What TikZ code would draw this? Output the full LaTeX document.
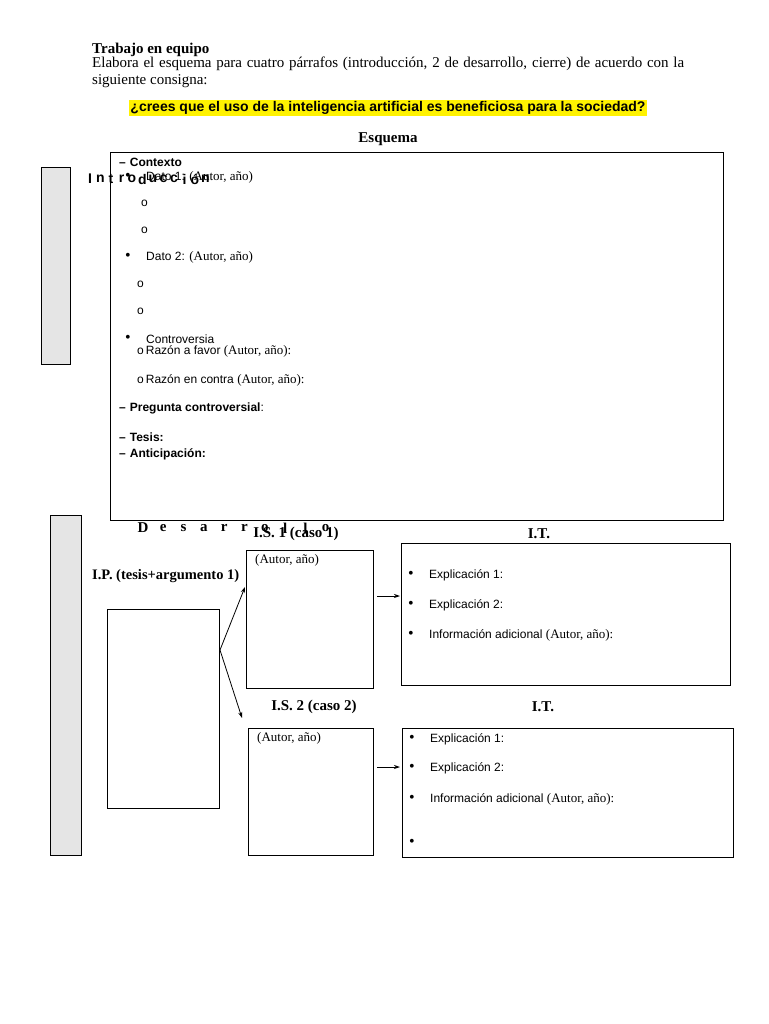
\documentclass[tikz,border=0pt]{standalone}
\usepackage{fontspec}
\setmainfont{Liberation Serif}
\newfontfamily\sansf{Liberation Sans}
\usetikzlibrary{arrows.meta}
\newcommand{\au}{{\rmfamily\fontsize{13}{14}\selectfont(Autor, año)}}
\newcommand{\bul}{\textbullet}
\begin{document}
\begin{tikzpicture}[x=1pt,y=-1pt,
  box/.style={draw,line width=0.8pt},
  bar/.style={draw,line width=0.8pt,fill=gray!20},
  lt/.style={anchor=west,inner sep=0pt,font=\sansf\fontsize{12}{14}\selectfont},
  bt/.style={anchor=west,inner sep=0pt,font=\rmfamily\fontsize{16}{14}\selectfont},
  ttl/.style={inner sep=0pt,font=\bfseries\fontsize{15}{17}\selectfont},
  arr/.style={-{Stealth[length=6pt,width=4pt]},line width=0.8pt}]
\useasboundingbox (0,0) rectangle (768,1024);
\node[ttl,anchor=west] (t1) at (92,50) {Trabajo en equipo};
\node[anchor=north west,inner sep=0pt,text width=592,align=justify,font=\fontsize{15}{17}\selectfont] (t2) at (92,57)
 {Elabora el esquema para cuatro párrafos (introducción, 2 de desarrollo, cierre) de acuerdo con la siguiente consigna:};
\node[fill=yellow,inner sep=1pt,font=\sansf\bfseries\fontsize{14}{16}\selectfont] (q) at (388,108)
 {¿crees que el uso de la inteligencia artificial es beneficiosa para la sociedad?};
\node[ttl] (esq) at (388,139) {Esquema};
\node[box,minimum width=613,minimum height=368,anchor=north west] (big) at (110,152) {};
\node[bar,minimum width=29,minimum height=197,anchor=north west] (bar1) at (41,167) {};
\node[bar,minimum width=31,minimum height=340,anchor=north west] (bar2) at (50,515) {};
\foreach \c [count=\i] in {I,n,t,r,o,d,u,c,c,i,ó,n}
  \node[inner sep=0pt,font=\sansf\bfseries\fontsize{14}{16}\selectfont] (in\i) at (90+10.5*\i-10.5,179) {\c};
\foreach \c [count=\i] in {D,e,s,a,r,r,o,l,l,o}
  \node[inner sep=0pt,font=\bfseries\fontsize{15}{17}\selectfont] (de\i) at (143+20.3*\i-20.3,528) {\c};
\node[lt] (l1) at (119,162) {\textbf{–\hspace{4pt}Contexto}};
\node[bt] (b1) at (125,177) {\bul};
\node[lt] (l2) at (146,177) {Dato 1: \au};
\node[lt] (o1) at (141,203) {o};
\node[lt] (o2) at (141,230) {o};
\node[bt] (b2) at (125,257) {\bul};
\node[lt] (l3) at (146,257) {Dato 2: \au};
\node[lt] (o3) at (137,284) {o};
\node[lt] (o4) at (137,311) {o};
\node[bt] (b3) at (125,339) {\bul};
\node[lt] (l4) at (146,339) {Controversia};
\node[lt] (l5) at (137,351) {o\,Razón a favor {\rmfamily\fontsize{13}{14}\selectfont(Autor, año):}};
\node[lt] (l6) at (137,380) {o\,Razón en contra {\rmfamily\fontsize{13}{14}\selectfont(Autor, año):}};
\node[lt] (l7) at (119,408) {\textbf{–\hspace{4pt}Pregunta controversial}:};
\node[lt] (l8) at (119,437) {\textbf{–\hspace{4pt}Tesis:}};
\node[lt] (l9) at (119,454) {\textbf{–\hspace{4pt}Anticipación:}};
\node[ttl,anchor=west,font=\bfseries\fontsize{14.5}{16}\selectfont] (ip) at (92,576) {I.P. (tesis+argumento 1)};
\node[box,minimum width=112,minimum height=199,anchor=north west] (ipb) at (107,609) {};
\node[ttl] (is1) at (296,534) {I.S. 1 (caso 1)};
\node[box,minimum width=127,minimum height=138,anchor=north west] (is1b) at (246,550) {};
\node[anchor=west,inner sep=0pt,font=\fontsize{13}{14}\selectfont] (a1) at (255,560) {(Autor, año)};
\node[ttl] (it1) at (539,534) {I.T.};
\node[box,minimum width=329,minimum height=142,anchor=north west] (it1b) at (401,543) {};
\node[bt] (c1) at (408,575) {\bul}; \node[lt] (d1) at (429,575) {Explicación 1:};
\node[bt] (c2) at (408,605) {\bul}; \node[lt] (d2) at (429,605) {Explicación 2:};
\node[bt] (c3) at (408,635) {\bul}; \node[lt] (d3) at (429,635) {Información adicional {\rmfamily\fontsize{13}{14}\selectfont(Autor, año):}};
\node[ttl] (is2) at (314,707) {I.S. 2 (caso 2)};
\node[box,minimum width=125,minimum height=127,anchor=north west] (is2b) at (248,728) {};
\node[anchor=west,inner sep=0pt,font=\fontsize{13}{14}\selectfont] (a2) at (257,738) {(Autor, año)};
\node[ttl] (it2) at (543,707) {I.T.};
\node[box,minimum width=331,minimum height=129,anchor=north west] (it2b) at (402,728) {};
\node[bt] (e1) at (409,739) {\bul}; \node[lt] (f1) at (430,739) {Explicación 1:};
\node[bt] (e2) at (409,768) {\bul}; \node[lt] (f2) at (430,768) {Explicación 2:};
\node[bt] (e3) at (409,799) {\bul}; \node[lt] (f3) at (430,799) {Información adicional {\rmfamily\fontsize{13}{14}\selectfont(Autor, año):}};
\node[bt] (e4) at (409,843) {\bul};
\coordinate (s) at (220,650);
\coordinate (t1a) at (245,587);
\coordinate (t2a) at (242,718);
\draw[arr] (s) -- (t1a);
\draw[arr] (s) -- (t2a);
\coordinate (r1) at (377,596); \coordinate (r2) at (400,596);
\coordinate (r3) at (377,767); \coordinate (r4) at (400,767);
\draw[arr] (r1) -- (r2);
\draw[arr] (r3) -- (r4);
\end{tikzpicture}
\end{document}
